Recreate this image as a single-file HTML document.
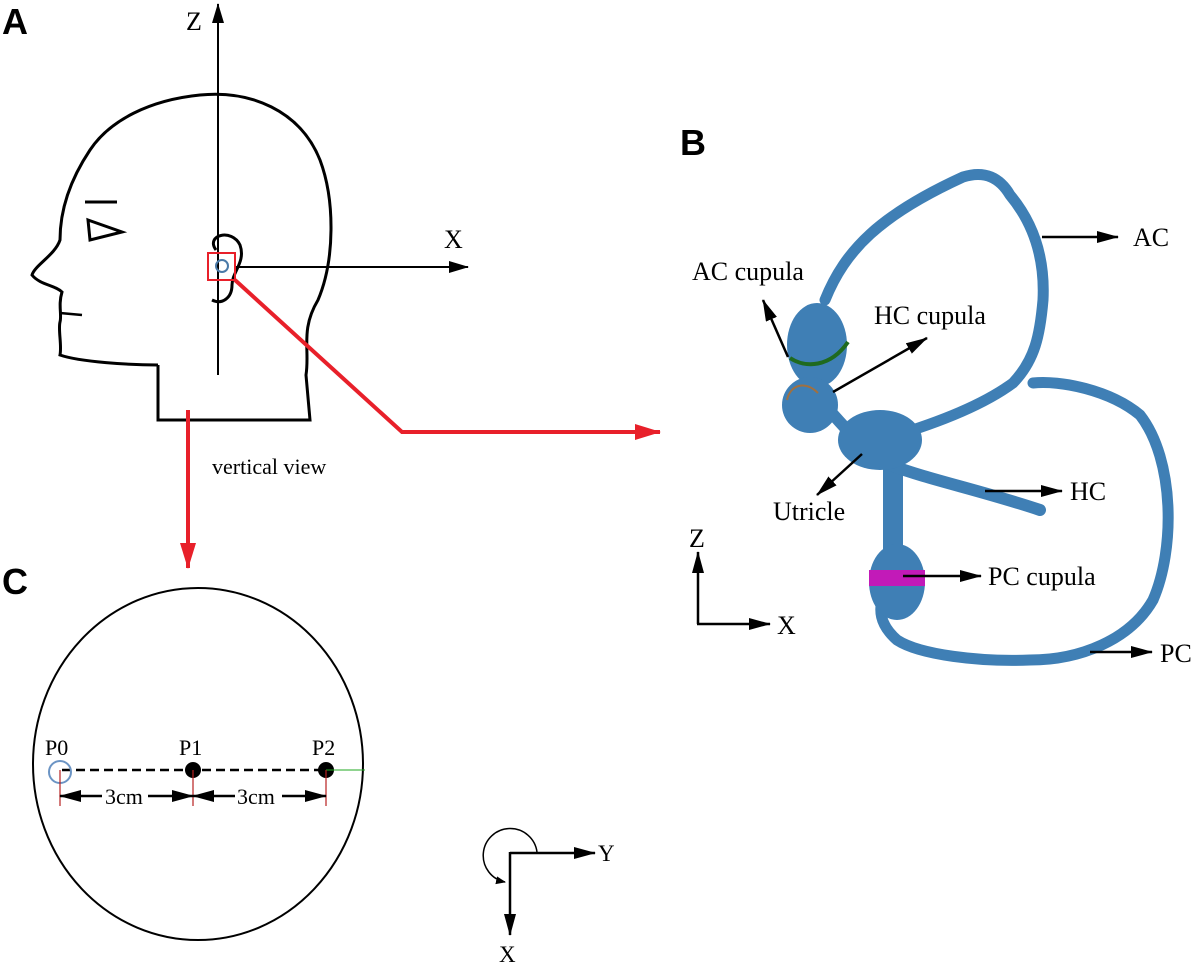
<!DOCTYPE html>
<html><head><style>body{margin:0;background:#fff}svg{display:block}</style></head><body>
<svg width="1200" height="966" viewBox="0 0 1200 966" xmlns="http://www.w3.org/2000/svg" font-family="Liberation Serif, serif">
<defs>
<marker id="ak" markerWidth="10" markerHeight="8" refX="9" refY="4" orient="auto" markerUnits="userSpaceOnUse"><path d="M0,0L10,4L0,8z" fill="#000"/></marker>
<marker id="az" markerWidth="20" markerHeight="12" refX="19" refY="6" orient="auto" markerUnits="userSpaceOnUse"><path d="M0,0L20,6L0,12z" fill="#000"/></marker>
<marker id="ab" markerWidth="22" markerHeight="12" refX="21" refY="6" orient="auto" markerUnits="userSpaceOnUse"><path d="M0,0L22,6L0,12z" fill="#000"/></marker>
<marker id="ar" markerWidth="26" markerHeight="16" refX="25" refY="8" orient="auto" markerUnits="userSpaceOnUse"><path d="M0,0L26,8L0,16z" fill="#e8202a"/></marker>
</defs>
<g font-family="Liberation Sans, sans-serif" font-weight="bold" font-size="36">
<text x="2" y="34">A</text><text x="680" y="155">B</text><text x="2" y="594">C</text></g>
<!-- head -->
<path d="M158,365 L158,420 L310,420 L306,375 C310,350 300,330 318,300 C335,260 335,200 320,160 C300,110 250,90 200,95 C150,100 110,120 90,150 C70,180 60,210 60,240 C55,255 35,265 32,275 C40,285 55,285 62,292 C58,305 62,315 60,322 C58,330 62,345 60,355 C80,362 130,365 158,365" fill="none" stroke="#000" stroke-width="3"/>
<line x1="60" y1="313" x2="82" y2="315" stroke="#000" stroke-width="2.5"/>
<line x1="85" y1="202" x2="117" y2="202" stroke="#000" stroke-width="3"/>
<path d="M88,220 L122,232 L90,240 Z" fill="none" stroke="#000" stroke-width="3"/>
<path d="M216,250 C205,235 232,228 240,245 C246,262 232,272 232,285 C232,298 222,305 212,300" fill="none" stroke="#000" stroke-width="3"/>
<line x1="218" y1="375" x2="218" y2="4" stroke="#000" stroke-width="2" marker-end="url(#az)"/>
<text x="186" y="30" font-size="26">Z</text>
<line x1="235" y1="267" x2="468" y2="267" stroke="#000" stroke-width="2" marker-end="url(#az)"/>
<text x="444" y="248" font-size="26">X</text>
<rect x="208" y="253" width="27" height="27" fill="none" stroke="#e8202a" stroke-width="2"/>
<circle cx="222" cy="266" r="6" fill="none" stroke="#4a7aa8" stroke-width="2"/>
<polyline points="235,280 402,432 660,432" fill="none" stroke="#e8202a" stroke-width="4" marker-end="url(#ar)"/>
<line x1="188" y1="410" x2="188" y2="568" stroke="#e8202a" stroke-width="4" marker-end="url(#ar)"/>
<text x="212" y="474" font-size="22">vertical view</text>
<!-- B model -->
<g fill="none" stroke="#3f7fb5" stroke-linecap="round" stroke-linejoin="round">
<path d="M825,300 C845,250 880,215 963,177 C985,170 1000,178 1010,195 C1035,225 1045,260 1043,300 C1040,335 1035,360 1013,383 C990,400 950,420 880,440" stroke-width="11"/>
<path d="M1033,383 C1060,380 1110,390 1140,415 C1175,460 1175,550 1153,600 C1130,640 1080,660 1030,660 C980,662 920,655 897,640 C880,625 877,610 885,590" stroke-width="11"/>
<path d="M893,450 L893,560" stroke-width="20"/>
<path d="M813,393 C840,420 860,450 890,465 C930,480 980,490 1040,510" stroke-width="12"/>
</g>
<g fill="#3f7fb5">
<ellipse cx="817" cy="345" rx="30" ry="42"/>
<ellipse cx="810" cy="405" rx="28" ry="28"/>
<ellipse cx="880" cy="440" rx="42" ry="30"/>
<ellipse cx="897" cy="582" rx="28" ry="38"/>
</g>
<path d="M790,358 C805,368 830,368 848,342" fill="none" stroke="#1f6a1f" stroke-width="4"/>
<path d="M787,400 C790,385 805,380 818,393" fill="none" stroke="#a07040" stroke-width="2"/>
<rect x="869" y="570" width="56" height="16" fill="#c21ab8"/>
<g stroke="#000" stroke-width="2.5" fill="none">
<line x1="1042" y1="237" x2="1118" y2="237" marker-end="url(#ab)"/>
<line x1="788" y1="357" x2="763" y2="300" marker-end="url(#ab)"/>
<line x1="833" y1="392" x2="927" y2="338" marker-end="url(#ab)"/>
<line x1="862" y1="454" x2="817" y2="495" marker-end="url(#ab)"/>
<line x1="985" y1="491" x2="1062" y2="491" marker-end="url(#ab)"/>
<line x1="903" y1="576" x2="981" y2="576" marker-end="url(#ab)"/>
<line x1="1090" y1="652" x2="1152" y2="652" marker-end="url(#ab)"/>
<line x1="698" y1="624" x2="698" y2="552" marker-end="url(#ab)"/>
<line x1="697" y1="624" x2="770" y2="624" marker-end="url(#ab)"/>
</g>
<g font-size="26">
<text x="1133" y="246">AC</text>
<text x="692" y="280">AC cupula</text>
<text x="874" y="324">HC cupula</text>
<text x="773" y="520">Utricle</text>
<text x="1070" y="500">HC</text>
<text x="988" y="585">PC cupula</text>
<text x="1160" y="662">PC</text>
<text x="689" y="547">Z</text>
<text x="777" y="634">X</text>
</g>
<!-- C -->
<ellipse cx="198" cy="764" rx="165" ry="176" fill="none" stroke="#000" stroke-width="2"/>
<line x1="62" y1="770" x2="325" y2="770" stroke="#000" stroke-width="2.5" stroke-dasharray="9,5"/>
<circle cx="193" cy="770" r="8" fill="#000"/><circle cx="326" cy="770" r="8" fill="#000"/>
<circle cx="60" cy="772" r="11" fill="none" stroke="#6b94c4" stroke-width="2"/>
<line x1="326" y1="770" x2="365" y2="770" stroke="#22aa22" stroke-width="1"/>
<g stroke="#b82020" stroke-width="1.2"><line x1="60" y1="770" x2="60" y2="806"/><line x1="193" y1="770" x2="193" y2="806"/><line x1="326" y1="770" x2="326" y2="806"/></g>
<g font-size="22"><text x="45" y="755">P0</text><text x="179" y="755">P1</text><text x="312" y="755">P2</text>
<text x="105" y="804">3cm</text><text x="237" y="804">3cm</text></g>
<g stroke="#000" stroke-width="2.5">
<line x1="102" y1="796" x2="60" y2="796" marker-end="url(#ab)"/><line x1="148" y1="796" x2="193" y2="796" marker-end="url(#ab)"/>
<line x1="235" y1="796" x2="193" y2="796" marker-end="url(#ab)"/><line x1="282" y1="796" x2="326" y2="796" marker-end="url(#ab)"/>
</g>
<g stroke="#000" stroke-width="2.5" fill="none">
<line x1="510" y1="853" x2="595" y2="853" marker-end="url(#ab)"/>
<line x1="510" y1="852" x2="510" y2="935" marker-end="url(#ab)"/>
<path d="M537,852 A27,27 0 1,0 505,882" stroke-width="1.5" marker-end="url(#ak)"/>
</g>
<text x="598" y="861" font-size="23">Y</text>
<text x="499" y="962" font-size="23">X</text>
</svg>
</body></html>
